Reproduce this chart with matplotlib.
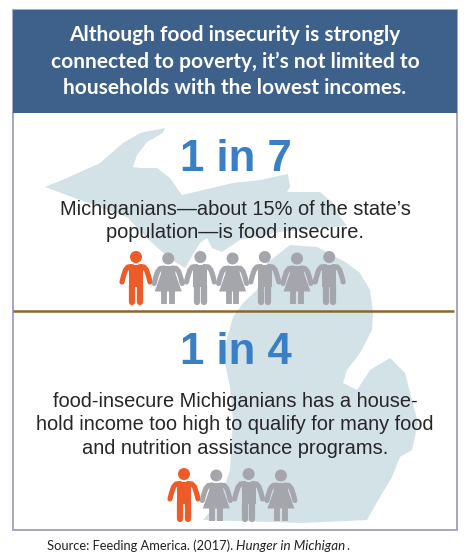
import numpy as np
from matplotlib import pyplot as plt
from matplotlib.patches import Polygon, Rectangle, Circle

# -------------------------------------------------------------------------------
# content

title = 'Although food insecurity is strongly\nconnected to poverty, it\u2019s not limited to\nhouseholds with the lowest incomes.'
big_labels = ['1 in 7', '1 in 4']
captions = ['Michiganians\u2014about 15% of the state\u2019s\npopulation\u2014is food insecure.',
            'food-insecure Michiganians has a house-\nhold income too high to qualify for many food\nand nutrition assistance programs.']
# figures per row, m = man, f = woman, first one is highlighted
row_1 = ['m', 'f', 'm', 'f', 'm', 'f', 'm']
row_2 = ['m', 'f', 'm', 'f']

# rough state outline
upper_x = [45, 67, 100, 123, 140, 165, 163, 147, 137, 133, 140, 157, 170, 182, 233, 260, 288, 290, 287, 320, 333, 337, 347, 320, 280, 240, 222, 212, 207, 200, 192, 185, 175, 160, 147, 127, 80]
upper_y = [187, 178, 163, 143, 133, 128, 133, 142, 155, 167, 168, 168, 178, 195, 183, 180, 174, 187, 192, 192, 203, 213, 226, 228, 232, 240, 252, 248, 238, 243, 256, 268, 262, 250, 238, 217, 200]
lower_x = [290, 317, 347, 360, 370, 373, 372, 360, 347, 343, 357, 370, 390, 405, 418, 412, 400, 392, 380, 367, 303, 203, 220, 230, 233, 230, 223, 233, 243, 257, 267]
lower_y = [245, 247, 263, 273, 290, 313, 330, 353, 370, 383, 390, 370, 358, 373, 423, 450, 457, 477, 497, 520, 523, 520, 500, 470, 420, 387, 353, 317, 303, 290, 263]

# -------------------------------------------------------------------------------
# colours

header_col = '#3e618b'
border_col = '#a6a4c8'
rule_col = '#86692f'
map_col = '#d3e2e7'
blue = '#3a7ec4'
orange = '#ee5a28'
grey = '#a5a6ac'
text_col = '#262626'

# -------------------------------------------------------------------------------
# figure in pixel coordinates

fig = plt.figure(figsize=(4.74, 5.59), dpi=100)
ax = fig.add_axes([0, 0, 1, 1])
ax.set_xlim(0, 474)
ax.set_ylim(559, 0)
ax.axis('off')


def person(x, top, bottom, kind, col):
    # women stand a little shorter than men
    if kind == 'f':
        top = top + 1.5
    ax.add_patch(Circle((x, top + 6), 6, color=col, lw=0, zorder=3))
    sh = top + 14
    arm = dict(color=col, lw=3.7, solid_capstyle='round', solid_joinstyle='round', zorder=3)
    for s in (-1, 1):
        ax.plot([x + s * 4, x + s * 8, x + s * 10.5, x + s * 12.5, x + s * 14],
                [sh + 1.5, sh + 2, sh + 5, sh + 11, sh + 17], **arm)
    if kind == 'm':
        ax.add_patch(Rectangle((x - 7, sh - 0.5), 14, 22, color=col, lw=0, zorder=3))
        for s in (-1, 1):
            ax.plot([x + s * 3.6, x + s * 3.6], [sh + 20, bottom - 2.2], color=col, lw=4.5,
                    solid_capstyle='round', zorder=3)
    else:
        ax.add_patch(Polygon([(x - 6, sh - 0.5), (x + 6, sh - 0.5), (x + 7.5, sh + 8), (x + 13.5, sh + 25),
                              (x - 13.5, sh + 25), (x - 7.5, sh + 8)], color=col, lw=0, zorder=3))
        for s in (-1, 1):
            ax.plot([x + s * 3.8, x + s * 3.8], [sh + 24, bottom], color=col, lw=4.2,
                    solid_capstyle='butt', zorder=3)


# map first, everything else sits on it
ax.add_patch(Polygon(np.column_stack([upper_x, upper_y]), color=map_col, lw=0, zorder=1))
ax.add_patch(Polygon(np.column_stack([lower_x, lower_y]), color=map_col, lw=0, zorder=1))

# frame and header
ax.add_patch(Rectangle((13, 10), 444, 520, fc='none', ec=border_col, lw=1.4, zorder=2))
ax.add_patch(Rectangle((13, 10), 444, 103, fc=header_col, lw=0, zorder=2))
ax.text(235, 61.5, title, color='white', fontsize=15, fontweight='bold', family='Lato',
        ha='center', va='center', linespacing=1.38, zorder=4)

# divider
ax.plot([13, 454], [311, 311], color=rule_col, lw=1.8, solid_capstyle='butt', zorder=2)

# big numbers
ax.text(236, 159.5, big_labels[0], color=blue, fontsize=31.5, fontweight='bold', family='Liberation Sans',
        ha='center', va='center', zorder=4)
ax.text(236, 353, big_labels[1], color=blue, fontsize=31.5, fontweight='bold', family='Liberation Sans',
        ha='center', va='center', zorder=4)

# captions
ax.text(235, 221, captions[0], color=text_col, fontsize=14.4, family='Liberation Sans',
        ha='center', va='center', linespacing=1.3, zorder=4)
ax.text(235, 425, captions[1], color=text_col, fontsize=14.4, family='Liberation Sans',
        ha='center', va='center', linespacing=1.3, zorder=4)

# people
for i, kind in enumerate(row_1):
    person(136 + i * 32.2, 251, 304, kind, orange if i == 0 else grey)
for i, kind in enumerate(row_2):
    person(184 + i * 32.3, 468, 521, kind, orange if i == 0 else grey)

# source line
ax.text(47, 546, 'Source: Feeding America. (2017).', color='#222222', fontsize=9.3, family='Lato',
        ha='left', va='center')
ax.text(236, 546, 'Hunger in Michigan', color='#222222', fontsize=9.6, family='Lato', style='italic',
        ha='left', va='center')
ax.text(346, 546, '.', color='#222222', fontsize=9.3, family='Lato', ha='left', va='center')

fig.savefig('out.png', dpi=100)
